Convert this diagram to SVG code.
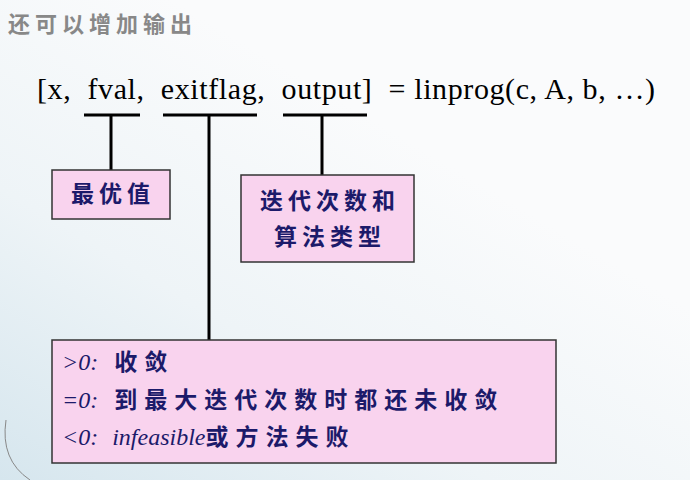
<svg xmlns="http://www.w3.org/2000/svg" width="690" height="480" viewBox="0 0 690 480">
<defs>
<linearGradient id="bg" x1="0" y1="1" x2="0.6" y2="0.3">
<stop offset="0" stop-color="#d6e6ee"/><stop offset="0.5" stop-color="#eef4f7"/><stop offset="1" stop-color="#fafbfc"/>
</linearGradient>
<style>
.box{fill:#f9d3ee;stroke:#333;stroke-width:1.5}
.ln{stroke:#000;stroke-width:3;fill:none}
.cn{font-family:"Noto Sans CJK SC",sans-serif;font-weight:bold;fill:#1c1a6a;font-size:23px}
.it{font-family:"Liberation Serif",serif;font-style:italic;fill:#1c1a6a;font-size:24px}
</style>
</defs>
<rect width="690" height="480" fill="url(#bg)"/>
<path d="M30,480 Q0,460 6,420" fill="none" stroke="#888" stroke-width="1"/>
<text x="8" y="32" font-family="Noto Sans CJK SC,sans-serif" font-weight="bold" font-size="22" fill="#888" letter-spacing="5">还可以增加输出</text>
<text x="37" y="99" font-family="Liberation Serif,serif" font-size="30" fill="#000" style="white-space:pre" xml:space="preserve" textLength="618" lengthAdjust="spacing">[x,  fval,  exitflag,  output]  = linprog(c, A, b, …)</text>
<g id="connectors">
<path class="ln" d="M84,115H140M111,115V170"/>
<path class="ln" d="M163,115H257M209,115V340"/>
<path class="ln" d="M283,115H367M322,115V175"/>
</g>
<g id="fval"><rect class="box" x="52" y="170" width="118" height="49"/><text class="cn" x="113" y="202" text-anchor="middle" letter-spacing="5">最优值</text></g>
<g id="output"><rect class="box" x="241" y="175" width="173" height="87"/><text class="cn" x="330" y="209" text-anchor="middle" letter-spacing="5">迭代次数和</text><text class="cn" x="330" y="245" text-anchor="middle" letter-spacing="5">算法类型</text></g>
<g id="exitflag"><rect class="box" x="52" y="340" width="504" height="123"/>
<text x="62" y="370" xml:space="preserve"><tspan class="it">&gt;0: </tspan><tspan class="cn" dx="10" letter-spacing="7">收敛</tspan></text>
<text x="62" y="408" xml:space="preserve"><tspan class="it">=0: </tspan><tspan class="cn" dx="10" letter-spacing="7">到最大迭代次数时都还未收敛</tspan></text>
<text x="62" y="445" xml:space="preserve"><tspan class="it">&lt;0: </tspan><tspan class="it" dx="8">infeasible</tspan><tspan class="cn" letter-spacing="7">或方法失败</tspan></text>
</g>
</svg>
